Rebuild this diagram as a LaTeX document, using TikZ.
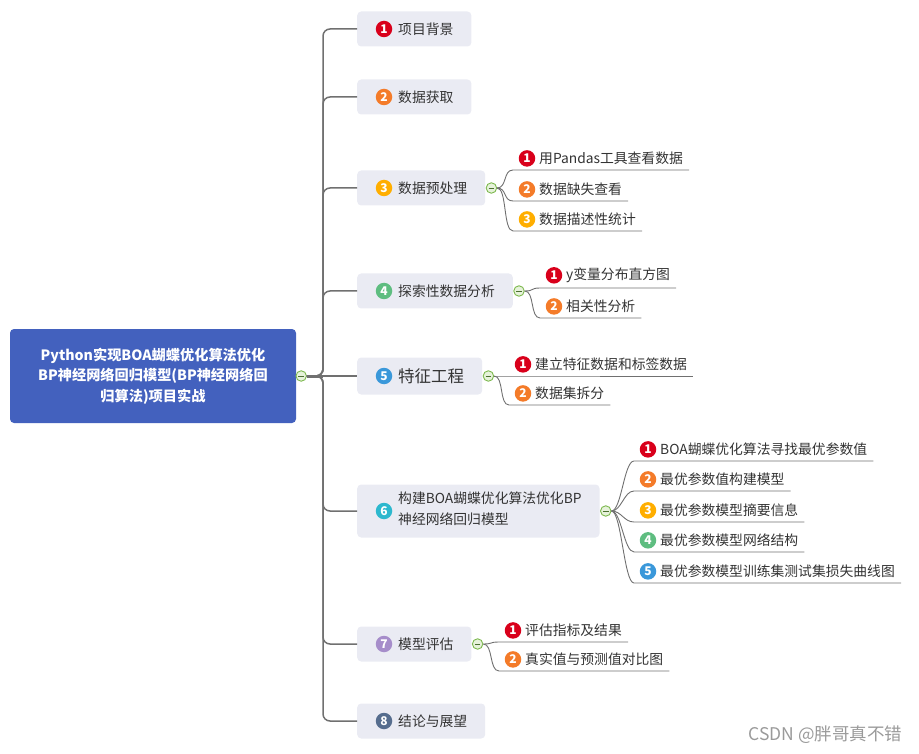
\documentclass[tikz,border=0pt]{standalone}
\usepackage{fontspec}
\setmainfont{Noto Sans CJK SC}
\usetikzlibrary{calc}
\definecolor{rootfill}{HTML}{4361BE}
\definecolor{topicfill}{HTML}{EAEBF3}
\definecolor{ink}{HTML}{333333}
\definecolor{wire}{HTML}{707070}
\definecolor{foldborder}{HTML}{7DB94F}
\definecolor{foldfill}{HTML}{E6F2DA}
\definecolor{num1}{HTML}{D9001B}
\definecolor{num2}{HTML}{F47B29}
\definecolor{num3}{HTML}{FFAE00}
\definecolor{num4}{HTML}{5EBD80}
\definecolor{num5}{HTML}{3A98DA}
\definecolor{num6}{HTML}{2DB8CE}
\definecolor{num7}{HTML}{A68DCA}
\definecolor{num8}{HTML}{566D8E}
\definecolor{watermark}{HTML}{9A9A9A}

\begin{document}
\begin{tikzpicture}[
  x=1pt, y=-1pt,
  font=\fontsize{13.8}{17}\selectfont,
  root/.style={fill=rootfill, rounded corners=4pt, text=white, align=center, font=\fontsize{14.2}{20.5}\selectfont\bfseries, minimum width=286pt, minimum height=94pt},
  topic/.style={fill=topicfill, rounded corners=4pt, text=ink, anchor=west, inner xsep=18pt, minimum height=35pt},
  leaf/.style={text=ink, anchor=south west, inner xsep=6pt, inner ysep=5pt},
  num/.style={circle, inner sep=0pt, minimum size=16.5pt, text=white, font=\fontsize{12}{12}\selectfont\bfseries},
  fold/.style={circle, draw=foldborder, fill=foldfill, line width=0.9pt, minimum size=10.5pt, inner sep=0pt,
    path picture={\draw[foldborder!60!black, line width=0.9pt] ($(path picture bounding box.west)+(2.4,0)$) -- ($(path picture bounding box.east)+(-2.4,0)$);}},
  trunk/.style={draw=wire, line width=1.5pt, rounded corners=7pt},
  twig/.style={draw=wire, line width=0.9pt}
]
\useasboundingbox (0,0) rectangle (919,754);

% Central topic
\node[root] (root) at (153,376) {Python实现BOA蝴蝶优化算法优化\\BP神经网络回归模型(BP神经网络回\\归算法)项目实战};
\node[fold] (foldroot) at ($(root.east)+(5,0)$) {};
\coordinate (hub) at (323,376);

% Main topics
\node[topic] (b1) at (357,29) {\hspace{23pt}项目背景};
\node[topic] (b2) at (357,97) {\hspace{23pt}数据获取};
\node[topic] (b3) at (357,188) {\hspace{23pt}数据预处理};
\node[topic] (b4) at (357,291) {\hspace{23pt}探索性数据分析};
\node[topic, minimum height=37pt] (b5) at (357,376) {\hspace{23pt}\fontsize{16.5}{20}\selectfont 特征工程};
\node[topic, minimum height=53pt] (b6) at (357,511) {\hspace{23pt}\begin{tabular}{@{}l@{}}构建BOA蝴蝶优化算法优化BP\\[4pt]神经网络回归模型\end{tabular}};
\node[topic] (b7) at (357,644) {\hspace{23pt}模型评估};
\node[topic] (b8) at (357,721) {\hspace{23pt}结论与展望};
\foreach \t/\n in {b1/1, b2/2, b3/3, b4/4, b5/5, b6/6, b7/7, b8/8}
  \node[num, fill=num\n] (num\t) at ($(\t.west)+(27,0)$) {\n};

% Trunk from the central topic
\draw[draw=wire, line width=3pt] (foldroot.east) -- (hub);
\foreach \t in {b1, b2, b3, b4, b6, b7, b8}
  \draw[trunk] (foldroot.east) -- (hub) |- (\t.west);
\draw[trunk] (foldroot.east) -- (b5.west);

% Subtopics
\foreach \t in {b3, b4, b5, b6, b7}
  \node[fold] (fold\t) at ($(\t.east)+(6,0)$) {};
\foreach \t/\c/\x/\y/\n/\txt in {
  b3/c31/513/170/1/用Pandas工具查看数据,
  b3/c32/513/201/2/数据缺失查看,
  b3/c33/513/231/3/数据描述性统计,
  b4/c41/540/288/1/y变量分布直方图,
  b4/c42/540/318/2/相关性分析,
  b5/c51/509/376/1/建立特征数据和标签数据,
  b5/c52/509/405/2/数据集拆分,
  b6/c61/634/461/1/BOA蝴蝶优化算法寻找最优参数值,
  b6/c62/634/491/2/最优参数值构建模型,
  b6/c63/634/522/3/最优参数模型摘要信息,
  b6/c64/634/552/4/最优参数模型网络结构,
  b6/c65/634/583/5/最优参数模型训练集测试集损失曲线图,
  b7/c71/499/642/1/评估指标及结果,
  b7/c72/499/671/2/真实值与预测值对比图}
{
  \node[leaf] (\c) at (\x,\y) {\hspace{20pt}\txt};
  \node[num, fill=num\n] (num\c) at ($(\c.west)+(14,0)$) {\n};
  \draw[twig] (fold\t.east) .. controls +(10,0) and +(-10,0) .. (\c.south west) -- (\c.south east);
}

% Watermark
\node[text=watermark, font=\fontsize{17.5}{18}\selectfont, anchor=east] (mark) at (906,735) {CSDN @胖哥真不错};

\end{tikzpicture}
\end{document}
